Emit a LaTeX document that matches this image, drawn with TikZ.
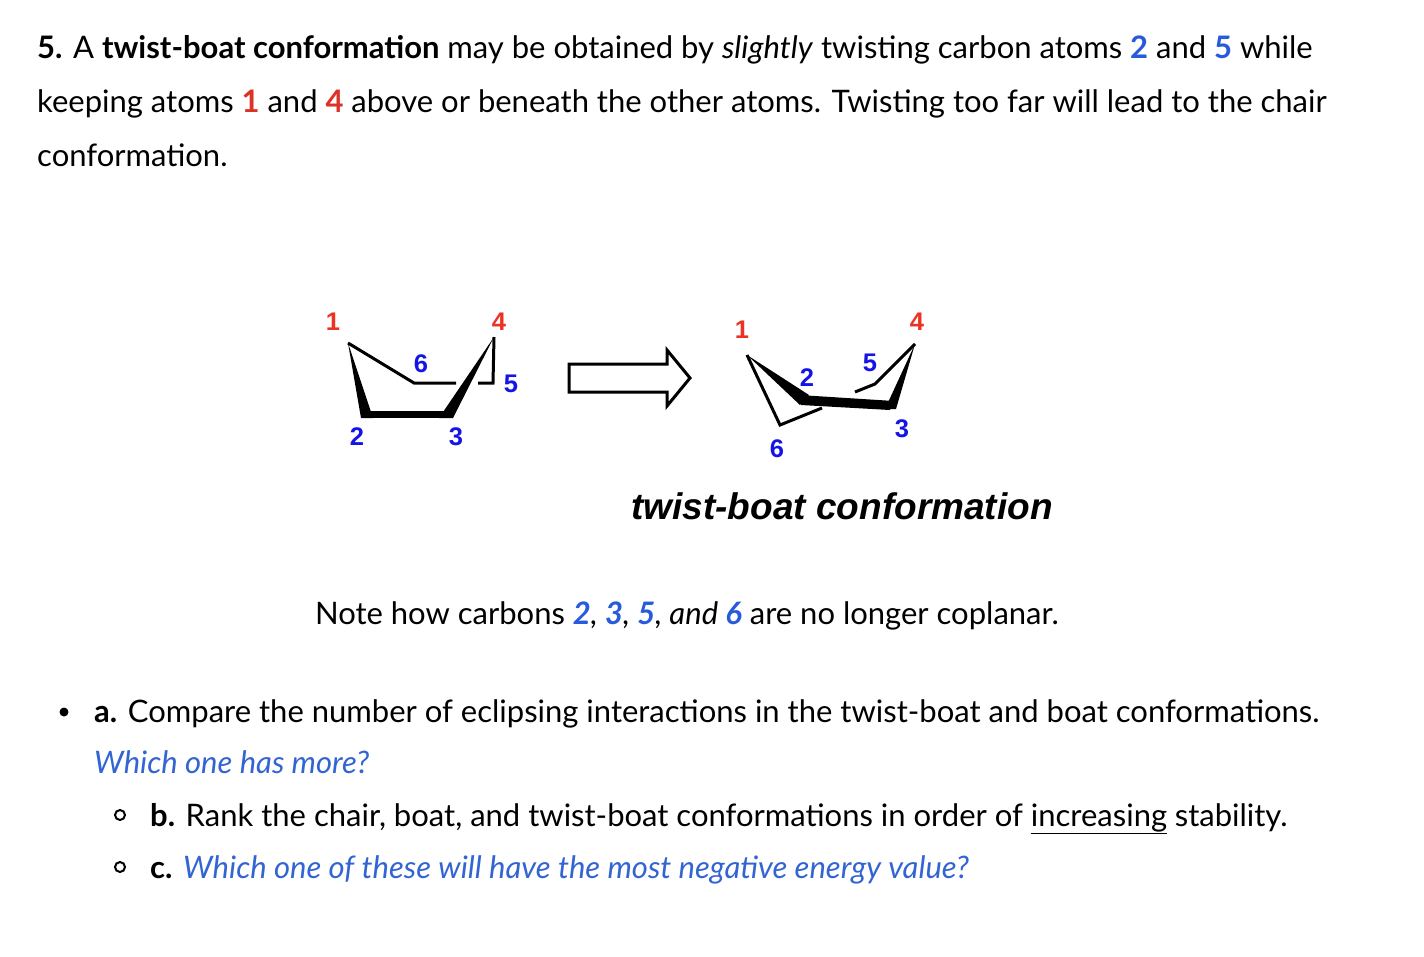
\documentclass[tikz,border=0pt]{standalone}
\usepackage{fontspec}
\setmainfont{Lato}
\newfontfamily\arialf{Liberation Sans}
\definecolor{tred}{RGB}{220,50,40}
\definecolor{tblue}{RGB}{40,90,220}
\definecolor{lblue}{RGB}{50,100,210}
\definecolor{ablue}{RGB}{20,20,230}
\definecolor{ared}{RGB}{235,50,35}
\begin{document}
\begin{tikzpicture}[x=1pt,y=-1pt,
  txt/.style={anchor=base west,inner sep=0pt,font=\fontsize{31}{34}\selectfont},
  lab/.style={inner sep=0pt,font=\arialf\bfseries\fontsize{25.5}{25.5}\selectfont},
  bl/.style={lab,text=ablue}, rd/.style={lab,text=ared},
  bond/.style={line width=3pt,line join=miter},
  wedge/.style={fill=black}]
\useasboundingbox (0,0) rectangle (1424,956);
\node[txt] (l1) at (37,58) {\textbf{5.} A \textbf{twist-boat conformation} may be obtained by \textit{slightly} twisting carbon atoms \textbf{\color{tblue}2} and \textbf{\color{tblue}5} while};
\node[txt] (l2) at (37,112) {keeping atoms \textbf{\color{tred}1} and \textbf{\color{tred}4} above or beneath the other atoms. Twisting too far will lead to the chair};
\node[txt] (l3) at (37,166) {conformation.};
% left boat
\coordinate (a1) at (348,343); \coordinate (a2) at (367,417); \coordinate (a3) at (446,417);
\coordinate (a4) at (494,337); \coordinate (a5) at (493,383); \coordinate (a6) at (414,383);
\fill (348,343) -- (373,418) -- (361,418) -- cycle;
\draw[line width=7pt] (363,414) -- (448,414);
\fill (494,337) -- (453,418) -- (439,418) -- cycle;
\draw[bond] (a1) -- (a6) -- (456,383);
\draw[bond] (478,383) -- (a5) -- (a4);
\node[rd] (n1) at (333,322) {1}; \node[rd] (n4) at (499,322) {4};
\node[bl] (n6) at (421,364) {6}; \node[bl] (n5) at (511,384) {5};
\node[bl] (n2) at (357,437) {2}; \node[bl] (n3) at (456,437) {3};
% arrow
\draw[line width=3pt,line join=miter] (569,364) -- (667,364) -- (667,350) -- (690,378) -- (667,406) -- (667,392) -- (569,392) -- cycle;
% right twist-boat
\coordinate (b1) at (747,355); \coordinate (b2) at (803,400); \coordinate (b3) at (891,405);
\coordinate (b4) at (915,344); \coordinate (b5) at (875,384); \coordinate (b6) at (780,425);
\fill (747,355) -- (809,395) -- (800,405) -- cycle;
\fill (799,395) -- (894,401) -- (890,410) -- (801,405) -- cycle;
\fill (915,344) -- (896,409) -- (885,409) -- cycle;
\draw[bond] (b1) -- (b6) -- (822,408);
\draw[bond] (b4) -- (b5) -- (855,392);
\node[rd] (m1) at (742,330) {1}; \node[rd] (m4) at (917,322) {4};
\node[bl] (m2) at (807,378) {2}; \node[bl] (m5) at (870,363) {5};
\node[bl] (m3) at (902,429) {3}; \node[bl] (m6) at (777,449) {6};
\node[inner sep=0pt,font=\arialf\bfseries\itshape\fontsize{37}{37}\selectfont] (cap) at (842,506) {twist-boat conformation};
\node[txt,anchor=base] (note) at (687,624) {Note how carbons \textit{\textbf{\color{tblue}2}, \textbf{\color{tblue}3}, \textbf{\color{tblue}5}, and \textbf{\color{tblue}6}} are no longer coplanar.};
\fill (64,712) circle (4.5);
\node[txt] (qa) at (94,722) {\textbf{a.} Compare the number of eclipsing interactions in the twist-boat and boat conformations.};
\node[txt,text=lblue] (qa2) at (94,773) {\textit{Which one has more?}};
\draw[line width=2pt] (120,815) circle (5);
\node[txt] (qb) at (150,826) {\textbf{b.} Rank the chair, boat, and twist-boat conformations in order of \underline{increasing} stability.};
\draw[line width=2pt] (120,867) circle (5);
\node[txt] (qc) at (150,878) {\textbf{c.} {\color{lblue}\textit{Which one of these will have the most negative energy value?}}};
\end{tikzpicture}
\end{document}
